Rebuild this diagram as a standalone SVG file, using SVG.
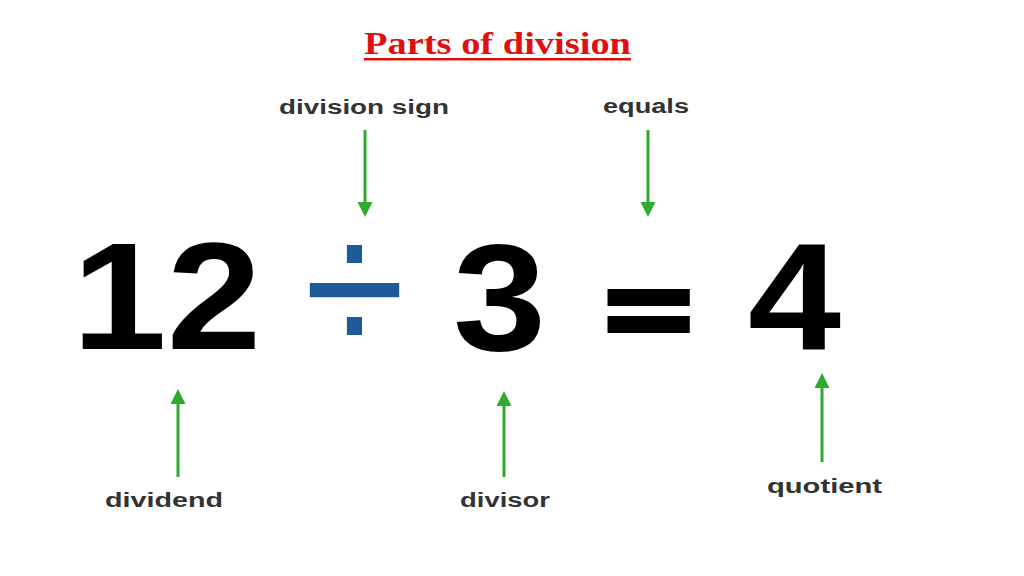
<svg xmlns="http://www.w3.org/2000/svg" width="1024" height="576" viewBox="0 0 1024 576">
<style>
.title{font-family:"Liberation Serif","Times New Roman",serif;font-weight:bold;font-size:32px;fill:#e01010}
.lbl{font-family:"Liberation Sans",Arial,sans-serif;font-weight:bold;font-size:20px;fill:#333333}
.num{font-family:"Liberation Sans",Arial,sans-serif;font-weight:bold;font-size:152px;fill:#000000}
.div{font-family:"Liberation Sans",Arial,sans-serif;font-size:200px;fill:#1d5b96}
.eq{stroke:#000000;stroke-width:9.5;stroke-linejoin:miter}
.arr{stroke:#2eaa2e;stroke-width:3;fill:none}
</style>
<defs>
<marker id="ah" markerUnits="userSpaceOnUse" markerWidth="16" markerHeight="16" refX="0" refY="7.5" orient="auto">
<path d="M0,0 L15,7.5 L0,15 z" fill="#2eaa2e"/>
</marker>
</defs>
<rect width="1024" height="576" fill="#ffffff"/>
<g id="title">
<text class="title" x="364" y="54" textLength="267" lengthAdjust="spacingAndGlyphs">Parts of division</text>
<rect x="364" y="58" width="267" height="2.5" fill="#e01010"/>
</g>
<g id="equation">
<text class="num" transform="translate(72,349) scale(1.12,1)">12</text>
<text class="div" transform="translate(304,357) scale(0.92,1)">÷</text>
<text class="num" transform="translate(453,350) scale(1.1,1)">3</text>
<text class="num eq" transform="translate(606,344) scale(0.96,0.654)">=</text>
<text class="num" transform="translate(748,349) scale(1.1,1)">4</text>
</g>
<g id="label-division-sign"><text class="lbl" x="279" y="114" textLength="170" lengthAdjust="spacingAndGlyphs">division sign</text></g>
<g id="label-equals"><text class="lbl" x="603" y="113" textLength="86" lengthAdjust="spacingAndGlyphs">equals</text></g>
<g id="label-dividend"><text class="lbl" x="105" y="507" textLength="118" lengthAdjust="spacingAndGlyphs">dividend</text></g>
<g id="label-divisor"><text class="lbl" x="460" y="507" textLength="90" lengthAdjust="spacingAndGlyphs">divisor</text></g>
<g id="label-quotient"><text class="lbl" x="767" y="493" textLength="115" lengthAdjust="spacingAndGlyphs">quotient</text></g>
<g id="connectors">
<line class="arr" x1="365" y1="130" x2="365" y2="202" marker-end="url(#ah)"/>
<line class="arr" x1="648" y1="130" x2="648" y2="202" marker-end="url(#ah)"/>
<line class="arr" x1="178" y1="477" x2="178" y2="404" marker-end="url(#ah)"/>
<line class="arr" x1="504" y1="477" x2="504" y2="406" marker-end="url(#ah)"/>
<line class="arr" x1="822" y1="462" x2="822" y2="388" marker-end="url(#ah)"/>
</g>
</svg>
